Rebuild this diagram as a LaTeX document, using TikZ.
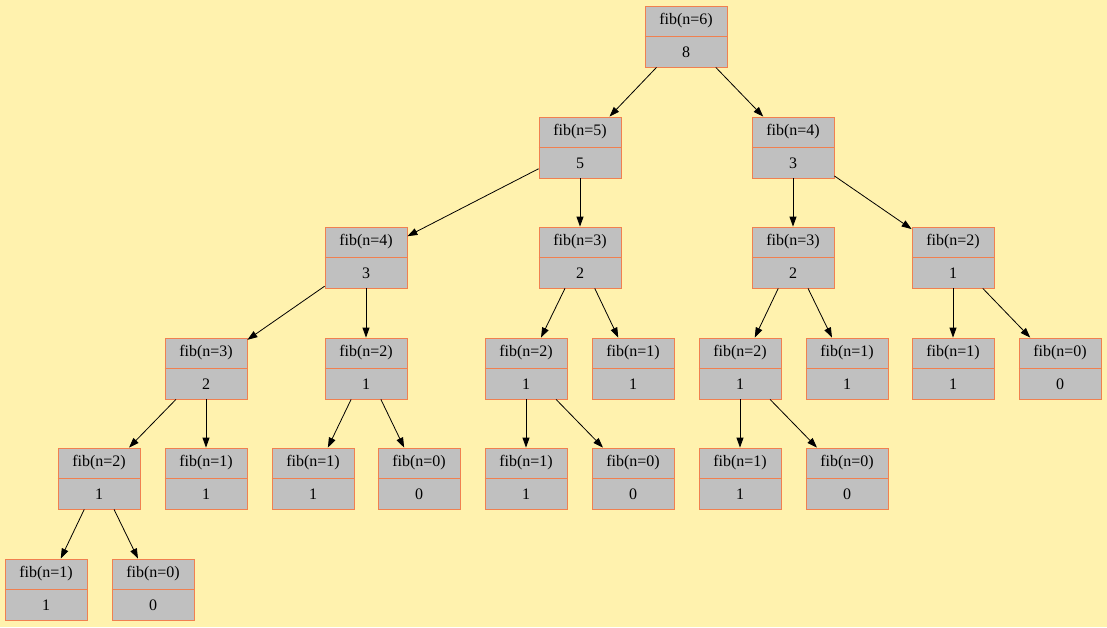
\documentclass[tikz,border=0pt]{standalone}
\usepackage{fontspec}
\setmainfont{Liberation Serif}
\usetikzlibrary{arrows.meta}
\definecolor{bg}{HTML}{FFF2AE}
\definecolor{bd}{HTML}{F08050}
\definecolor{fl}{HTML}{C0C0C0}
\tikzset{
  box/.style={draw=bd,fill=fl,minimum width=82pt,minimum height=61pt,inner sep=0pt,line width=0.8pt},
  lab/.style={font=\fontsize{16}{18}\selectfont,inner sep=0pt},
  edge/.style={-{Triangle[length=10pt,width=7pt]},line width=0.8pt,black}
}
\newcommand\fibn[5]{%
  \node[box] (#1) at (#2,#3) {};
  \draw[bd,line width=0.8pt] (#1.west) -- (#1.east);
  \path (#1.north) -- (#1.center) node[midway,lab] {#4};
  \path (#1.south) -- (#1.center) node[midway,lab] {#5};
}
\begin{document}
\begin{tikzpicture}[x=1pt,y=-1pt]
\fill[bg] (0,0) rectangle (1107,627);
\useasboundingbox (0,0) rectangle (1107,627);
\fibn{a}{686}{36.5}{fib(n=6)}{8}
\fibn{b}{580}{147.5}{fib(n=5)}{5}
\fibn{c}{793}{147.5}{fib(n=4)}{3}
\fibn{d}{366}{257.5}{fib(n=4)}{3}
\fibn{e}{580}{257.5}{fib(n=3)}{2}
\fibn{f}{793}{257.5}{fib(n=3)}{2}
\fibn{g}{953}{257.5}{fib(n=2)}{1}
\fibn{h}{206}{368.5}{fib(n=3)}{2}
\fibn{i}{366}{368.5}{fib(n=2)}{1}
\fibn{j}{526}{368.5}{fib(n=2)}{1}
\fibn{k}{633}{368.5}{fib(n=1)}{1}
\fibn{l}{740}{368.5}{fib(n=2)}{1}
\fibn{m}{847}{368.5}{fib(n=1)}{1}
\fibn{n}{953}{368.5}{fib(n=1)}{1}
\fibn{o}{1060}{368.5}{fib(n=0)}{0}
\fibn{p}{99}{478.5}{fib(n=2)}{1}
\fibn{q}{206}{478.5}{fib(n=1)}{1}
\fibn{r}{313}{478.5}{fib(n=1)}{1}
\fibn{s}{419}{478.5}{fib(n=0)}{0}
\fibn{t}{526}{478.5}{fib(n=1)}{1}
\fibn{u}{633}{478.5}{fib(n=0)}{0}
\fibn{v}{740}{478.5}{fib(n=1)}{1}
\fibn{w}{847}{478.5}{fib(n=0)}{0}
\fibn{x}{46}{589.5}{fib(n=1)}{1}
\fibn{y}{153}{589.5}{fib(n=0)}{0}
\foreach \p/\c in {a/b,a/c,b/d,b/e,c/f,c/g,d/h,d/i,e/j,e/k,f/l,f/m,g/n,g/o,h/p,h/q,i/r,i/s,j/t,j/u,l/v,l/w,p/x,p/y}
  \draw[edge] (\p) -- (\c);
\end{tikzpicture}
\end{document}
